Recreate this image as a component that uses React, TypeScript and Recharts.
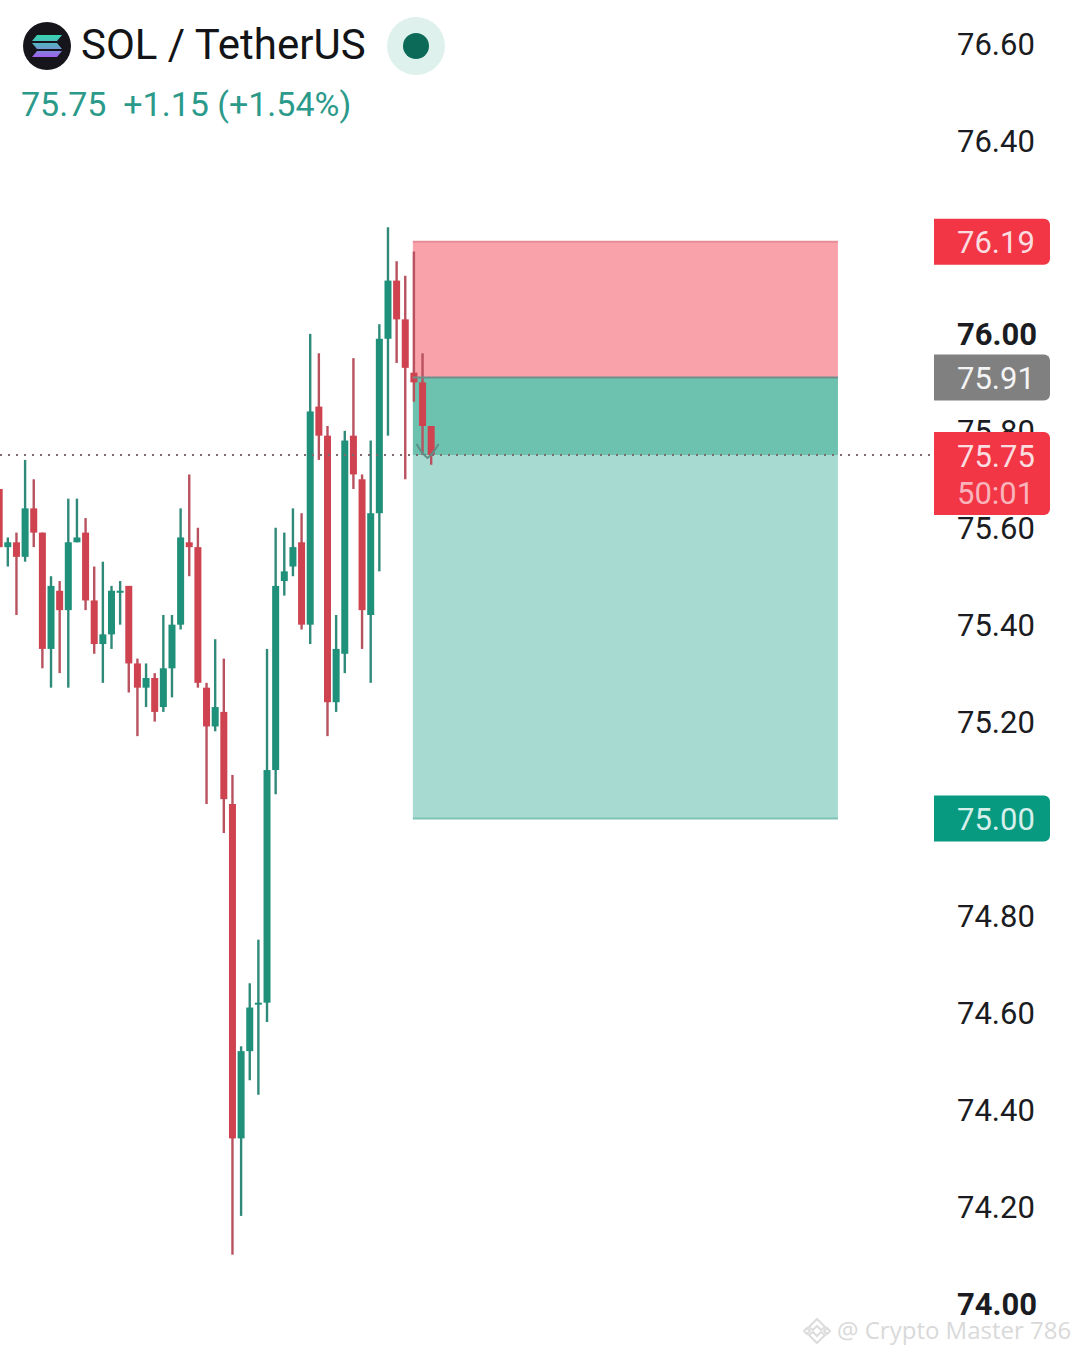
import { Bar, ComposedChart, ReferenceArea, ReferenceDot, ReferenceLine, XAxis, YAxis } from 'recharts'

const opens = [75.68, 75.56, 75.57, 75.54, 75.64, 75.59, 75.35, 75.47, 75.43, 75.57, 75.59, 75.45, 75.36, 75.38, 75.47, 75.48, 75.32, 75.27, 75.29, 75.23, 75.31, 75.40, 75.57, 75.56, 75.27, 75.19, 75.22, 75.03, 74.34, 74.52, 74.62, 74.62, 75.10, 75.49, 75.52, 75.57, 75.40, 75.85, 75.79, 75.24, 75.34, 75.79, 75.70, 75.42, 75.63, 75.99, 76.11, 76.03, 75.92, 75.90, 75.81]
const highs = [75.68, 75.58, 75.59, 75.74, 75.70, 75.59, 75.50, 75.49, 75.66, 75.66, 75.62, 75.52, 75.53, 75.48, 75.49, 75.48, 75.33, 75.32, 75.30, 75.42, 75.42, 75.64, 75.71, 75.60, 75.28, 75.37, 75.33, 75.09, 74.53, 74.66, 74.75, 75.35, 75.60, 75.59, 75.64, 75.63, 76.00, 75.96, 75.81, 75.42, 75.80, 75.95, 75.71, 75.78, 76.02, 76.22, 76.15, 76.12, 76.17, 75.96, 75.81]
const lows = [75.56, 75.52, 75.42, 75.53, 75.56, 75.31, 75.27, 75.30, 75.27, 75.57, 75.43, 75.34, 75.28, 75.35, 75.40, 75.26, 75.17, 75.23, 75.20, 75.22, 75.25, 75.39, 75.50, 75.27, 75.03, 75.18, 74.97, 74.10, 74.18, 74.46, 74.43, 74.58, 75.05, 75.46, 75.50, 75.39, 75.36, 75.74, 75.17, 75.22, 75.30, 75.68, 75.35, 75.28, 75.51, 75.79, 75.94, 75.70, 75.86, 75.75, 75.73]
const closes = [75.56, 75.57, 75.54, 75.64, 75.59, 75.35, 75.48, 75.43, 75.57, 75.58, 75.45, 75.36, 75.38, 75.47, 75.47, 75.32, 75.27, 75.29, 75.22, 75.31, 75.40, 75.58, 75.56, 75.28, 75.19, 75.23, 75.04, 74.34, 74.52, 74.61, 74.62, 75.10, 75.48, 75.51, 75.56, 75.40, 75.84, 75.79, 75.24, 75.35, 75.78, 75.71, 75.43, 75.63, 75.99, 76.11, 76.03, 75.93, 75.90, 75.81, 75.75]

// 76.20 and 75.00 sit fully behind the price tags in the reference
const priceTicks = [76.6, 76.4, 76.0, 75.8, 75.6, 75.4, 75.2, 74.8, 74.6, 74.4, 74.2, 74.0]
const boldTicks = [76.0, 74.0]

const stopPrice = 76.19
const entryPrice = 75.91
const lastPrice = 75.75
const targetPrice = 75.0
const countdown = '50:01'

const candles = opens.map((open, index) => ({
  index,
  open,
  close: closes[index],
  high: highs[index],
  low: lows[index],
  range: [lows[index], highs[index]],
}))

const boxStart = 47.9
const boxEnd = 97.1
const tagSlot = 114.9
const lineEnd = 108.2
const tagLayer = 5000

function Candle({ x, y, width, height, payload }: any) {
  const up = payload.close >= payload.open
  const k = height / (payload.high - payload.low)
  const top = y + (payload.high - Math.max(payload.open, payload.close)) * k
  const bodyH = Math.max(Math.abs(payload.open - payload.close) * k, 2)
  const mid = x + width / 2
  return (
    <g>
      <rect x={mid - 1.2} y={y} width={2.4} height={height} fill={up ? '#2f8a7a' : '#b9525f'} />
      <rect x={x} y={top} width={width} height={bodyH} fill={up ? '#1f9079' : '#cf4350'} />
    </g>
  )
}

function PriceTick({ y, payload }: any) {
  const bold = boldTicks.includes(payload.value)
  return (
    <text
      x={957}
      y={y + 1}
      dominantBaseline="central"
      fontFamily="Roboto"
      fontSize={31}
      fontWeight={bold ? 700 : 400}
      fill="#1a1c22"
    >
      {payload.value.toFixed(2)}
    </text>
  )
}

function PriceTag({ cy, tagFill, color, label, sub }: any) {
  const h = sub ? 83 : 46
  const top = cy - 23
  return (
    <g>
      <path d={`M934 ${top}H1044a6 6 0 0 1 6 6V${top + h - 6}a6 6 0 0 1 -6 6H934Z`} fill={tagFill} />
      <text x={957} y={top + 24} dominantBaseline="central" fontFamily="Roboto" fontSize={31} fill={color}>
        {label}
      </text>
      {sub && (
        <text x={957} y={top + 61} dominantBaseline="central" fontFamily="Roboto" fontSize={31} fill="#f9b4bb">
          {sub}
        </text>
      )}
    </g>
  )
}

function Chevron({ cx, cy }: any) {
  return (
    <path
      d={`M${cx - 11} ${cy - 11}Q${cx - 6} ${cy - 2} ${cx} ${cy + 3}Q${cx + 6} ${cy - 2} ${cx + 11} ${cy - 11}`}
      fill="none"
      stroke="#5f8f88"
      strokeWidth={2}
    />
  )
}

function SolLogo() {
  return (
    <svg width={48} height={48} viewBox="0 0 48 48" style={{ position: 'absolute', left: 23, top: 22 }}>
      <defs>
        <linearGradient id="solGrad" x1="0" y1="0" x2="0" y2="1">
          <stop offset="0" stopColor="#35d6b0" />
          <stop offset="0.5" stopColor="#5fa8c8" />
          <stop offset="1" stopColor="#a45cf0" />
        </linearGradient>
      </defs>
      <circle cx={24} cy={24} r={24} fill="#15151b" />
      <path d="M14 13H39L34 19H9ZM9 21H34L39 27H14ZM14 29H39L34 35H9Z" fill="url(#solGrad)" />
    </svg>
  )
}

function BinanceMark() {
  return (
    <svg width={28} height={28} viewBox="0 0 28 28" style={{ position: 'absolute', left: 803, top: 1317 }}>
      <g fill="none" stroke="#dcdcdc" strokeWidth={2}>
        <path d="M14 2L22 10L18 13L14 9L10 13L6 10Z" />
        <path d="M14 26L22 18L18 15L14 19L10 15L6 18Z" />
        <path d="M1 14L4 11L7 14L4 17ZM21 14L24 11L27 14L24 17Z" />
      </g>
    </svg>
  )
}

export default function App() {
  return (
    <div style={{ position: 'absolute', left: 0, top: 0, width: 1080, height: 1355, background: '#fff', overflow: 'hidden' }}>
      <ComposedChart width={1080} height={1355} data={candles} margin={{ top: 0, right: 0, bottom: 0, left: 0 }}>
        <XAxis dataKey="index" type="number" domain={[0.116, 125]} allowDataOverflow hide />
        <YAxis
          orientation="right"
          width={1}
          domain={[73.893, 76.689]}
          allowDataOverflow
          ticks={priceTicks}
          interval={0}
          axisLine={false}
          tickLine={false}
          tick={<PriceTick />}
        />
        <ReferenceArea x1={boxStart} x2={boxEnd} y1={entryPrice} y2={stopPrice} fill="#f9a2aa" fillOpacity={1} />
        <ReferenceArea x1={boxStart} x2={boxEnd} y1={lastPrice} y2={entryPrice} fill="#6cc1af" fillOpacity={1} />
        <ReferenceArea x1={boxStart} x2={boxEnd} y1={targetPrice} y2={lastPrice} fill="#a7dbd1" fillOpacity={1} />
        <ReferenceLine segment={[{ x: boxStart, y: stopPrice }, { x: boxEnd, y: stopPrice }]} stroke="#e58c96" strokeWidth={2} />
        <ReferenceLine segment={[{ x: boxStart, y: entryPrice }, { x: boxEnd, y: entryPrice }]} stroke="#6f8f8c" strokeWidth={2} />
        <ReferenceLine segment={[{ x: boxStart, y: targetPrice }, { x: boxEnd, y: targetPrice }]} stroke="#7fc4b6" strokeWidth={2} />
        <ReferenceLine segment={[{ x: 0.116, y: lastPrice }, { x: lineEnd, y: lastPrice }]} stroke="#7d6a6c" strokeWidth={2} strokeDasharray="2 6" />
        <ReferenceDot x={49.6} y={lastPrice} r={1} shape={<Chevron />} />
        <Bar dataKey="range" barSize={7} isAnimationActive={false} shape={<Candle />} />
        <ReferenceDot zIndex={tagLayer} x={tagSlot} y={stopPrice} r={1} ifOverflow="visible" shape={<PriceTag tagFill="#f23645" color="#fbdde0" label="76.19" />} />
        <ReferenceDot zIndex={tagLayer} x={tagSlot} y={entryPrice} r={1} ifOverflow="visible" shape={<PriceTag tagFill="#808080" color="#f4f4f4" label="75.91" />} />
        <ReferenceDot zIndex={tagLayer} x={tagSlot} y={lastPrice} r={1} ifOverflow="visible" shape={<PriceTag tagFill="#f23645" color="#fbdde0" label="75.75" sub={countdown} />} />
        <ReferenceDot zIndex={tagLayer} x={tagSlot} y={targetPrice} r={1} ifOverflow="visible" shape={<PriceTag tagFill="#089981" color="#d5f0ea" label="75.00" />} />
      </ComposedChart>

      <SolLogo />
      <div style={{ position: 'absolute', left: 81, top: 21, fontFamily: 'Roboto', fontSize: 42, lineHeight: '48px', color: '#131418', whiteSpace: 'nowrap' }}>
        SOL / TetherUS
      </div>
      <div style={{ position: 'absolute', left: 387, top: 17, width: 58, height: 58, borderRadius: 29, background: '#dff1ed' }} />
      <div style={{ position: 'absolute', left: 403, top: 33, width: 26, height: 26, borderRadius: 13, background: '#0b6b58' }} />
      <div style={{ position: 'absolute', left: 21, top: 84, fontFamily: 'Roboto', fontSize: 34, lineHeight: '40px', color: '#2b9a8a', whiteSpace: 'pre' }}>
        {'75.75  +1.15 (+1.54%)'}
      </div>
      <BinanceMark />
      <div style={{ position: 'absolute', left: 837, top: 1314, fontFamily: 'Open Sans', fontSize: 24, lineHeight: '32px', color: '#d9d9d9', whiteSpace: 'nowrap' }}>
        @ Crypto Master 786
      </div>
    </div>
  )
}
